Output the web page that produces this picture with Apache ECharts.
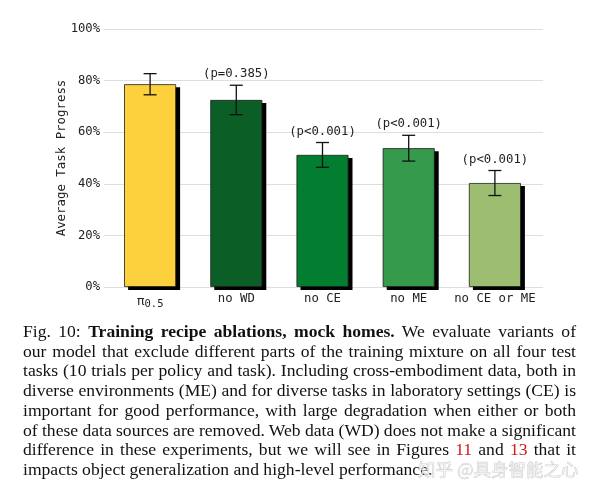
<!DOCTYPE html>
<html>
<head>
<meta charset="utf-8">
<script src="https://cdn.jsdelivr.net/npm/echarts@6/dist/echarts.min.js"></script>
<style>
  html, body { margin: 0; padding: 0; background: #fff; }
  #chart { position: absolute; left: 0; top: 0; width: 595px; height: 493px; }
  #caption { position: absolute; left: 23px; top: 322px; width: 553px;
    font-family: 'Liberation Serif', 'Times New Roman', serif; font-size: 17.6px;
    line-height: 19.7px; color: #111; word-spacing: -2px; }
  #caption .ln { text-align: justify; text-align-last: justify; }
  #caption .last { text-align: left; text-align-last: left; word-spacing: 0; }
  #caption .r { color: #d01c1c; }
  #wm { position: absolute; left: 418px; top: 457px; font-family: 'Noto Sans CJK SC', sans-serif;
    font-size: 17.5px; line-height: 24px; color: rgba(255,255,255,0.75);
    -webkit-text-stroke: 0.6px rgba(195,195,195,0.8); white-space: nowrap; }
</style>
</head>
<body>
<div id="chart"></div>
<div id="caption">
  <div class="ln">Fig. 10: <b>Training recipe ablations, mock homes.</b> We evaluate variants of</div>
  <div class="ln">our model that exclude different parts of the training mixture on all four test</div>
  <div class="ln">tasks (10 trials per policy and task). Including cross-embodiment data, both in</div>
  <div class="ln">diverse environments (ME) and for diverse tasks in laboratory settings (CE) is</div>
  <div class="ln">important for good performance, with large degradation when either or both</div>
  <div class="ln">of these data sources are removed. Web data (WD) does not make a significant</div>
  <div class="ln">difference in these experiments, but we will see in Figures <span class="r">11</span> and <span class="r">13</span> that it</div>
  <div class="ln last">impacts object generalization and high-level performance.</div>
</div>
<div id="wm">知乎 @具身智能之心</div>
<script>
const categories = ['π0.5', 'no WD', 'no CE', 'no ME', 'no CE or ME'];
const means = [78.6, 72.5, 51.2, 53.8, 40.3];
const errors = [4.1, 5.7, 4.8, 5.0, 4.85];
const pLabels = ['', '(p=0.385)', '(p<0.001)', '(p<0.001)', '(p<0.001)'];
const yTicks = [0, 20, 40, 60, 80, 100];

const barColors = ['#FDD13E', '#0B5E26', '#037D2F', '#359A4C', '#9DBE70'];
const mono = 'DejaVu Sans Mono';
const BAR_W = 52;

const chart = echarts.init(document.getElementById('chart'), null, { renderer: 'canvas' });

const barData = means.map((v, i) => ({
  value: v,
  itemStyle: { color: barColors[i] }
}));
const shadowData = means.map((v, i) => [i, v]);
const errData = means.map((v, i) => [i, v - errors[i], v + errors[i]]);

const option = {
  backgroundColor: '#fff',
  animation: false,
  grid: [
    { left: 107, right: 57, top: 29, bottom: 206 },
    { left: 104, right: 52, top: 29, bottom: 206 }
  ],
  xAxis: [
    {
      type: 'category', gridIndex: 0, data: categories,
      axisLine: { show: false }, axisTick: { show: false },
      axisLabel: {
        interval: 0, margin: 6, color: '#222', fontFamily: mono, fontSize: 12.3,
        formatter: function (v) {
          if (v === 'π0.5') return '{pi|π}{sub|0.5}';
          return v;
        },
        rich: {
          pi: { fontFamily: mono, fontSize: 13, color: '#222' },
          sub: { fontFamily: mono, fontSize: 10.5, color: '#222', padding: [6, 0, 0, 0] }
        }
      }
    },
    { type: 'value', gridIndex: 1, show: false, min: 0, max: 1 }
  ],
  yAxis: [
    {
      type: 'value', gridIndex: 0, min: 0, max: 100, interval: 20, show: false,
      splitLine: { show: false }
    },
    {
      type: 'value', gridIndex: 1, min: 0, max: 100, interval: 20,
      axisLine: { show: false }, axisTick: { show: false },
      axisLabel: {
        margin: 4, color: '#222', fontFamily: mono, fontSize: 12.2,
        formatter: function (v) { return yTicks.indexOf(v) >= 0 ? v + '%' : ''; }
      },
      splitLine: { show: true, lineStyle: { color: '#dedede', width: 1 } },
      name: 'Average Task Progress', nameLocation: 'middle', nameGap: 36,
      nameMoveOverlap: false,
      nameTextStyle: { color: '#222', fontFamily: mono, fontSize: 12.4 }
    }
  ],
  series: [
    {
      type: 'custom', xAxisIndex: 0, yAxisIndex: 0, data: shadowData, z: 1,
      renderItem: function (params, api) {
        const top = api.coord([api.value(0), api.value(1)]);
        const bot = api.coord([api.value(0), 0]);
        return {
          type: 'rect',
          shape: { x: top[0] - BAR_W / 2 + 4, y: top[1] + 3, width: BAR_W, height: bot[1] - top[1] },
          style: { fill: '#000' }
        };
      }
    },
    {
      type: 'bar', xAxisIndex: 0, yAxisIndex: 0, data: barData, barWidth: BAR_W,
      itemStyle: { borderColor: '#1e1e1e', borderWidth: 0.8 },
      z: 2
    },
    {
      type: 'custom', xAxisIndex: 0, yAxisIndex: 0, data: errData, z: 5,
      renderItem: function (params, api) {
        const i = params.dataIndex;
        const top = api.coord([api.value(0), api.value(2)]);
        const bot = api.coord([api.value(0), api.value(1)]);
        const h = 6.5;
        const st = { stroke: '#111', lineWidth: 1.3 };
        const children = [
          { type: 'line', shape: { x1: top[0], y1: top[1], x2: bot[0], y2: bot[1] }, style: st },
          { type: 'line', shape: { x1: top[0] - h, y1: top[1], x2: top[0] + h, y2: top[1] }, style: st },
          { type: 'line', shape: { x1: bot[0] - h, y1: bot[1], x2: bot[0] + h, y2: bot[1] }, style: st }
        ];
        if (pLabels[i]) {
          children.push({
            type: 'text',
            style: {
              text: pLabels[i], x: top[0], y: top[1] - 11,
              align: 'center', verticalAlign: 'middle',
              fontFamily: mono, fontSize: 12.3, fill: '#222'
            }
          });
        }
        return { type: 'group', children: children };
      }
    }
  ]
};
chart.setOption(option);
</script>
</body>
</html>
